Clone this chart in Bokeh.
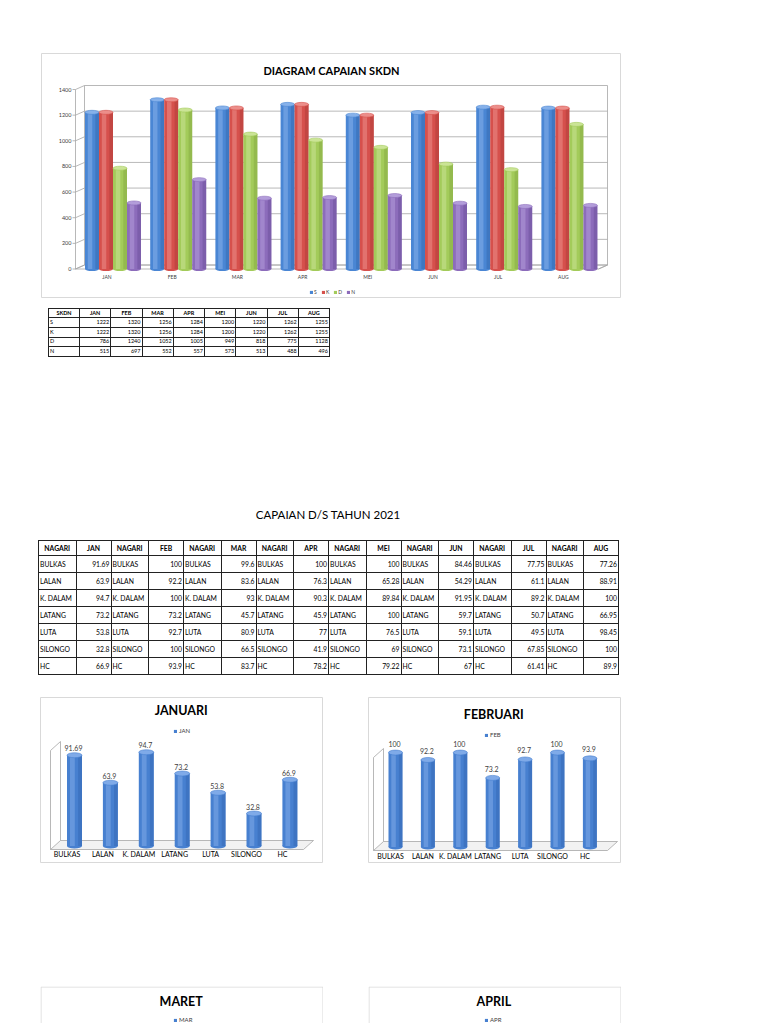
import numpy as np
from bokeh.plotting import figure
from bokeh.layouts import column, row
from bokeh.models import Spacer, Div, Legend, LegendItem, Range1d
from bokeh.embed import file_html
from bokeh.resources import INLINE
from bokeh.core.properties import value

FONT = "Lato"

# ---------------- data ----------------
months = ["JAN", "FEB", "MAR", "APR", "MEI", "JUN", "JUL", "AUG"]
series_names = ["S", "K", "D", "N"]
skdn_S = [1222, 1320, 1256, 1284, 1200, 1220, 1262, 1255]
skdn_K = [1222, 1320, 1256, 1284, 1200, 1220, 1262, 1255]
skdn_D = [786, 1240, 1052, 1005, 949, 818, 775, 1128]
skdn_N = [515, 697, 552, 557, 573, 513, 488, 496]
y_ticks = [0, 200, 400, 600, 800, 1000, 1200, 1400]

nagari = ["BULKAS", "LALAN", "K. DALAM", "LATANG", "LUTA", "SILONGO", "HC"]
ds_jan = [91.69, 63.9, 94.7, 73.2, 53.8, 32.8, 66.9]
ds_feb = [100, 92.2, 100, 73.2, 92.7, 100, 93.9]
ds_mar = [99.6, 83.6, 93, 45.7, 80.9, 66.5, 83.7]
ds_apr = [100, 76.3, 90.3, 45.9, 77, 41.9, 78.2]
ds_mei = [100, 65.28, 89.84, 100, 76.5, 69, 79.22]
ds_jun = [84.46, 54.29, 91.95, 59.7, 59.1, 73.1, 67]
ds_jul = [77.75, 61.1, 89.2, 50.7, 49.5, 67.85, 61.41]
ds_aug = [77.26, 88.91, 100, 66.95, 98.45, 100, 89.9]
ds_all = [ds_jan, ds_feb, ds_mar, ds_apr, ds_mei, ds_jun, ds_jul, ds_aug]

# ---------------- styles ----------------
SERIES_COLORS = [
    ("#4A86D4", "#86B1EA", "#2C5C9E"),
    ("#D6504C", "#EC8E8A", "#9E3431"),
    ("#A3CB5A", "#CBE496", "#789A38"),
    ("#8C6CBB", "#B39DDA", "#5F4590"),
]
BLUE = ("#4780D0", "#7FAAE8", "#2E5EA8")
BOX = "#d9d9d9"
WALL = "#a6a6a6"


class Geo:
    """maps local pixel positions of a figure to data coordinates"""
    def __init__(self, w, h, x0_px, x_step_px, y0_px, y_scale):
        self.w, self.h = w, h
        self.x0, self.xs = x0_px, x_step_px
        self.y0, self.ys = y0_px, y_scale

    def fx(self, px):
        return (px - self.x0) / self.xs

    def fy(self, py):
        return (self.y0 - py) / self.ys

    def dx(self, px):
        return px / self.xs

    def dy(self, py):
        return py / self.ys

    def xr(self):
        return Range1d(self.fx(0), self.fx(self.w))

    def yr(self):
        return Range1d(self.fy(self.h), self.fy(0))


def base_fig(g, outline=True):
    p = figure(width=g.w, height=g.h, x_range=g.xr(), y_range=g.yr(),
               output_backend="svg", toolbar_location=None, min_border=0,
               x_axis_location=None, y_axis_location=None)
    p.xgrid.grid_line_color = None
    p.ygrid.grid_line_color = None
    p.outline_line_color = BOX if outline else None
    p.outline_line_width = 1
    p.background_fill_color = "white"
    p.border_fill_color = "white"
    return p


def cylinders(p, xs, tops, width, colors, cap_h=4):
    base, light, dark = colors
    xs = np.asarray(xs, float)
    tops = np.asarray(tops, float)
    zeros = np.zeros_like(tops)
    p.ellipse(x=xs, y=zeros, width=width, height=cap_h, height_units="screen",
              fill_color=base, line_color=None)
    r = p.vbar(x=xs, width=width, top=tops, bottom=zeros, fill_color=base, line_color=None)
    p.vbar(x=xs - 0.14 * width, width=0.32 * width, top=tops, bottom=zeros,
           fill_color=light, fill_alpha=0.55, line_color=None)
    p.vbar(x=xs + 0.37 * width, width=0.26 * width, top=tops, bottom=zeros,
           fill_color=dark, fill_alpha=0.35, line_color=None)
    p.ellipse(x=xs, y=tops, width=width, height=cap_h, height_units="screen",
              fill_color=light, line_color=base, line_width=0.6)
    return r


# ---------------- main SKDN chart ----------------
g1 = Geo(580, 245, 65.5, 65.2, 215.5, 179.5 / 1400)
p1 = base_fig(g1)
Dy = g1.dy(4)
xl_f, xl_b, xr_b, xr_f = g1.fx(34), g1.fx(43), g1.fx(566), g1.fx(557)
n = len(y_ticks)
p1.patch([xl_f, xr_f, xr_b, xl_b], [0, 0, Dy, Dy], fill_color="white", line_color=WALL, line_width=0.8)
p1.segment(x0=[xl_b] * n, y0=[t + Dy for t in y_ticks], x1=[xr_b] * n, y1=[t + Dy for t in y_ticks],
           line_color=WALL, line_width=0.8)
p1.segment(x0=[xl_f] * n, y0=y_ticks, x1=[xl_b] * n, y1=[t + Dy for t in y_ticks],
           line_color=WALL, line_width=0.8)
top = y_ticks[-1]
p1.segment(x0=[xl_f, xl_b, xr_b, xr_f], y0=[0, Dy, Dy, 0], x1=[xl_f, xl_b, xr_b, xr_b],
           y1=[top, top + Dy, top + Dy, Dy], line_color=WALL, line_width=0.8)
p1.segment(x0=[g1.fx(31)] * n, y0=y_ticks, x1=[xl_f] * n, y1=y_ticks, line_color=WALL, line_width=0.8)
p1.text(x=[g1.fx(30)] * n, y=y_ticks, text=[str(t) for t in y_ticks], text_align="right",
        text_baseline="middle", text_font=value(FONT), text_font_size="5.5px", text_color="#404040")
p1.text(x=list(range(len(months))), y=[g1.fy(223)] * len(months), text=months, text_align="center",
        text_baseline="middle", text_font=value(FONT), text_font_size="5px", text_color="#404040")

offsets_px = [-15, -1, 13, 27]
bar_w = g1.dx(14)
idx = np.arange(len(months))
renderers = []
for vals, off, cols in zip([skdn_S, skdn_K, skdn_D, skdn_N], offsets_px, SERIES_COLORS):
    renderers.append(cylinders(p1, idx + g1.dx(off), vals, bar_w, cols, cap_h=4))

p1.text(x=[g1.fx(290)], y=[g1.fy(17)], text=["DIAGRAM CAPAIAN SKDN"], text_align="center",
        text_baseline="middle", text_font=value(FONT), text_font_style="bold",
        text_font_size="11px", text_color="#000000")

leg1 = Legend(items=[LegendItem(label=nm, renderers=[r]) for nm, r in zip(series_names, renderers)],
              location=(268, 3), orientation="horizontal", glyph_width=4, glyph_height=4,
              label_text_font=FONT, label_text_font_size="5px", label_text_color="#404040",
              label_standoff=1, spacing=4, padding=0, margin=0, border_line_color=None,
              background_fill_alpha=0, label_height=5, label_width=3)
p1.add_layout(leg1)


# ---------------- monthly charts ----------------
LEFT = dict(w=283, lab0=26.5, step=35.9, bar_off=7.5, bar_w=15, zero=148.5, sy=0.99,
            floor=(10, 263, 152, 20, 273, 143), wall=(10, 53, 20, 44),
            title_x=140.7, legend_x=133, label_y=156.5, val_off=-4)
RIGHT = dict(w=253, lab0=22, step=32.4, bar_off=5, bar_w=14, zero=149.5, sy=0.944,
             floor=(5, 239, 153, 15, 249, 144), wall=(5, 60, 15, 51),
             title_x=125.3, legend_x=116, label_y=158.5, val_off=-6)


def month_chart(title, key, vals, geo, h, title_y, legend_cy, cut=False):
    g = Geo(geo["w"], h, geo["lab0"], geo["step"], geo["zero"], geo["sy"])
    p = base_fig(g, outline=not cut)
    if cut:
        # box continues below the page: only left, top and right edges are visible
        p.line([g.fx(0.5), g.fx(0.5), g.fx(g.w - 0.5), g.fx(g.w - 0.5)],
               [g.fy(g.h), g.fy(0.5), g.fy(0.5), g.fy(g.h)], line_color=BOX, line_width=1)
    fxa, fxb, fyf, bxa, bxb, fyb = geo["floor"]
    p.patch([g.fx(fxa), g.fx(fxb), g.fx(bxb), g.fx(bxa)], [g.fy(fyf), g.fy(fyf), g.fy(fyb), g.fy(fyb)],
            fill_color="#f2f2f2", line_color=WALL, line_width=0.8)
    wxf, wyt, wxb, wybt = geo["wall"]
    p.line([g.fx(wxf), g.fx(wxf), g.fx(wxb), g.fx(wxb)],
           [g.fy(fyf), g.fy(wyt), g.fy(wybt), g.fy(fyb)], line_color=WALL, line_width=0.8)
    ii = np.arange(len(nagari))
    xs = ii + g.dx(geo["bar_off"])
    r = cylinders(p, xs, vals, g.dx(geo["bar_w"]), BLUE, cap_h=5)
    if not cut:
        p.text(x=xs, y=vals, text=[f"{v:g}" for v in vals], text_align="center", text_baseline="bottom",
               y_offset=geo["val_off"], x_offset=-1, text_font=value(FONT), text_font_size="7px",
               text_color="#404040")
        p.text(x=list(ii), y=[g.fy(geo["label_y"])] * len(nagari), text=nagari, text_align="center",
               text_baseline="middle", text_font=value(FONT), text_font_size="7px", text_color="#000000")
    p.text(x=[g.fx(geo["title_x"])], y=[g.fy(title_y)], text=[title], text_align="center",
           text_baseline="middle", text_font=value(FONT), text_font_style="bold",
           text_font_size="12.5px", text_color="#000000")
    ly = max(0, h - legend_cy - 3)
    leg = Legend(items=[LegendItem(label=key, renderers=[r])], location=(geo["legend_x"], ly),
                 orientation="horizontal", glyph_width=4, glyph_height=4, label_text_font=FONT,
                 label_text_font_size="6px", label_text_color="#404040", label_standoff=2,
                 padding=0, margin=0, border_line_color=None, background_fill_alpha=0,
                 label_height=6, label_width=3)
    p.add_layout(leg)
    return p


p_jan = month_chart("JANUARI", "JAN", ds_jan, LEFT, 166, 13, 34)
p_feb = month_chart("FEBRUARI", "FEB", ds_feb, RIGHT, 166, 17, 38)
p_mar = month_chart("MARET", "MAR", ds_mar, LEFT, 37, 15, 34, cut=True)
p_apr = month_chart("APRIL", "APR", ds_apr, RIGHT, 37, 15, 34, cut=True)


# ---------------- tables ----------------
def fmt(v):
    return f"{v:g}"


CELL = "border:1px solid #222;padding:0 1px;overflow:hidden;white-space:nowrap;"


def table1_html():
    widths = [31] + [31.25] * len(months)
    h = '<table style="border-collapse:collapse;table-layout:fixed;width:281px;font-family:Lato;' \
        'font-size:5.5px;line-height:7px;color:#000;">'
    h += "<colgroup>" + "".join(f'<col style="width:{w}px">' for w in widths) + "</colgroup>"
    h += '<tr style="height:9px">' + "".join(
        f'<td style="{CELL}text-align:center;font-weight:bold">{c}</td>' for c in ["SKDN"] + months) + "</tr>"
    for nm, vals in zip(series_names, [skdn_S, skdn_K, skdn_D, skdn_N]):
        h += '<tr style="height:9.8px">' + f'<td style="{CELL}text-align:left">{nm}</td>'
        h += "".join(f'<td style="{CELL}text-align:right">{v}</td>' for v in vals) + "</tr>"
    return h + "</table>"


def table2_html():
    widths = [37.5, 35] * len(months)
    h = '<table style="border-collapse:collapse;table-layout:fixed;width:580px;font-family:Lato;' \
        'font-size:6.8px;line-height:8px;color:#000;">'
    h += "<colgroup>" + "".join(f'<col style="width:{w}px">' for w in widths) + "</colgroup>"
    hdr = []
    for m in months:
        hdr += ["NAGARI", m]
    h += '<tr style="height:15px">' + "".join(
        f'<td style="{CELL}text-align:center;font-weight:bold">{c}</td>' for c in hdr) + "</tr>"
    for r_i, nm in enumerate(nagari):
        h += '<tr style="height:17px">'
        for vals in ds_all:
            h += f'<td style="{CELL}text-align:left">{nm}</td>'
            h += f'<td style="{CELL}text-align:right">{fmt(vals[r_i])}</td>'
        h += "</tr>"
    return h + "</table>"


div_t1 = Div(text=table1_html(), width=283, height=50, margin=0)
div_title2 = Div(text='<div style="width:580px;text-align:center;font-family:Lato;font-size:11.5px;'
                      'line-height:20px;color:#000">CAPAIAN D/S TAHUN 2021</div>',
                 width=580, height=20, margin=0)
div_t2 = Div(text=table2_html(), width=582, height=136, margin=0)

layout = column(
    Spacer(width=10, height=53),
    row(Spacer(width=41, height=245), p1),
    Spacer(width=10, height=10),
    row(Spacer(width=48, height=50), div_t1),
    Spacer(width=10, height=147),
    row(Spacer(width=38, height=20), div_title2),
    Spacer(width=10, height=15),
    row(Spacer(width=38, height=136), div_t2),
    Spacer(width=10, height=21),
    row(Spacer(width=40, height=166), p_jan, Spacer(width=45, height=166), p_feb),
    Spacer(width=10, height=123),
    row(Spacer(width=40, height=37), p_mar, Spacer(width=45, height=37), p_apr),
)

open("out.html", "w").write(file_html(layout, INLINE))
